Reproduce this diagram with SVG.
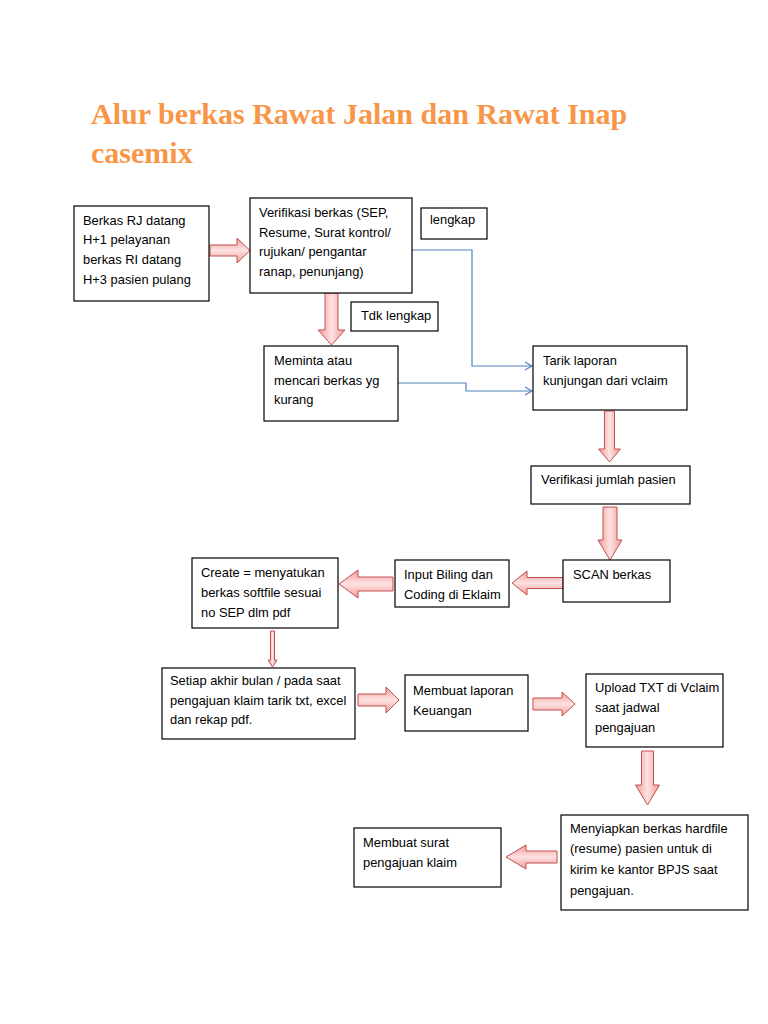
<svg xmlns="http://www.w3.org/2000/svg" width="768" height="1024" viewBox="0 0 768 1024">
<style>
.box{fill:#fff;stroke:#000;stroke-width:1.2}
.t{font-family:"Liberation Sans",Arial,sans-serif;font-size:12.9px;fill:#000}
.title{font-family:"Liberation Serif","Times New Roman",serif;font-size:30px;font-weight:bold;fill:#F79646}
.ah{stroke:#C0504D;stroke-width:1;stroke-linejoin:miter}
.h{fill:url(#gh)}
.v{fill:url(#gv)}
.blue{fill:none;stroke:#4F81BD;stroke-width:1.2}
</style>
<defs>
<linearGradient id="gh" x1="0" y1="0" x2="0" y2="1">
<stop offset="0" stop-color="#F09A98"/><stop offset="0.5" stop-color="#FDE2E2"/><stop offset="1" stop-color="#F09A98"/>
</linearGradient>
<linearGradient id="gv" x1="0" y1="0" x2="1" y2="0">
<stop offset="0" stop-color="#F09A98"/><stop offset="0.5" stop-color="#FDE2E2"/><stop offset="1" stop-color="#F09A98"/>
</linearGradient>
<marker id="open" markerWidth="10" markerHeight="10" refX="8" refY="5" orient="auto" markerUnits="userSpaceOnUse">
<polyline points="1,1 8,5 1,9" fill="none" stroke="#4F81BD" stroke-width="1.2"/>
</marker>
</defs>
<rect width="768" height="1024" fill="#fff"/>
<text class="title" x="91" y="124">Alur berkas Rawat Jalan dan Rawat Inap</text>
<text class="title" x="91" y="163">casemix</text>

<g id="connectors">
<path class="ah h" d="M210,245 L237,245 L237,238 L250,250.5 L237,263 L237,256 L210,256 Z"/>
<path class="ah v" d="M325,293 L338,293 L338,330 L345,330 L331.5,345 L318,330 L325,330 Z"/>
<polyline class="blue" points="412,250 472,250 472,366 532,366" marker-end="url(#open)"/>
<polyline class="blue" points="398,383 466,383 466,391 532,391" marker-end="url(#open)"/>
<path class="ah v" d="M604.5,411 L614.5,411 L614.5,449 L620.5,449 L609.5,462 L598.5,449 L604.5,449 Z"/>
<path class="ah v" d="M603,507 L617,507 L617,540 L622,540 L610,560 L598,540 L603,540 Z"/>
<path class="ah h" d="M563,577.5 L527,577.5 L527,571 L512,583 L527,595 L527,588.5 L563,588.5 Z"/>
<path class="ah h" d="M393,577 L358,577 L358,570 L339,584 L358,598 L358,591 L393,591 Z"/>
<path class="ah v" d="M270.5,631 L274.5,631 L274.5,660 L277,660 L272.5,667 L268,660 L270.5,660 Z"/>
<path class="ah h" d="M358,694 L386,694 L386,687 L399,700 L386,713 L386,706 L358,706 Z"/>
<path class="ah h" d="M533,698 L562,698 L562,692 L575,704 L562,716 L562,710 L533,710 Z"/>
<path class="ah v" d="M641.5,751 L653.5,751 L653.5,785 L659.5,785 L647.5,805 L635.5,785 L641.5,785 Z"/>
<path class="ah h" d="M557,851 L526,851 L526,845 L506,857 L526,869 L526,863 L557,863 Z"/>
</g>

<g id="n1"><rect class="box" x="74" y="206" width="135" height="95"/>
<text class="t" x="83" y="225">Berkas RJ datang</text><text class="t" x="83" y="244">H+1 pelayanan</text><text class="t" x="83" y="264">berkas RI datang</text><text class="t" x="83" y="284">H+3 pasien pulang</text></g>
<g id="n2"><rect class="box" x="250" y="198" width="162" height="95"/>
<text class="t" x="259" y="217">Verifikasi berkas (SEP,</text><text class="t" x="259" y="237">Resume, Surat kontrol/</text><text class="t" x="259" y="256">rujukan/ pengantar</text><text class="t" x="259" y="276">ranap, penunjang)</text></g>
<g id="n3"><rect class="box" x="421" y="208" width="66" height="31"/>
<text class="t" x="430" y="224">lengkap</text></g>
<g id="n4"><rect class="box" x="351" y="302" width="87" height="29"/>
<text class="t" x="361" y="320">Tdk lengkap</text></g>
<g id="n5"><rect class="box" x="264" y="346" width="134" height="75"/>
<text class="t" x="274" y="365">Meminta atau</text><text class="t" x="274" y="385">mencari berkas yg</text><text class="t" x="274" y="404">kurang</text></g>
<g id="n6"><rect class="box" x="533" y="346" width="154" height="64"/>
<text class="t" x="543" y="365">Tarik laporan</text><text class="t" x="543" y="385">kunjungan dari vclaim</text></g>
<g id="n7"><rect class="box" x="531" y="466" width="159" height="38"/>
<text class="t" x="541" y="484">Verifikasi jumlah pasien</text></g>
<g id="n8"><rect class="box" x="563" y="560" width="107" height="42"/>
<text class="t" x="573" y="579">SCAN berkas</text></g>
<g id="n9"><rect class="box" x="395" y="560" width="114" height="47"/>
<text class="t" x="404" y="579">Input Biling dan</text><text class="t" x="404" y="599">Coding di Eklaim</text></g>
<g id="n10"><rect class="box" x="192" y="558" width="146" height="70"/>
<text class="t" x="201" y="577">Create = menyatukan</text><text class="t" x="201" y="597">berkas softfile sesuai</text><text class="t" x="201" y="617">no SEP dlm pdf</text></g>
<g id="n11"><rect class="box" x="162" y="668" width="193" height="71"/>
<text class="t" x="170" y="685">Setiap akhir bulan / pada saat</text><text class="t" x="170" y="705">pengajuan klaim tarik txt, excel</text><text class="t" x="170" y="724">dan rekap pdf.</text></g>
<g id="n12"><rect class="box" x="405" y="675" width="123" height="56"/>
<text class="t" x="413" y="695">Membuat laporan</text><text class="t" x="413" y="715">Keuangan</text></g>
<g id="n13"><rect class="box" x="586" y="674" width="137" height="73"/>
<text class="t" x="595" y="692">Upload TXT di Vclaim</text><text class="t" x="595" y="712">saat jadwal</text><text class="t" x="595" y="732">pengajuan</text></g>
<g id="n14"><rect class="box" x="561" y="815" width="187" height="95"/>
<text class="t" x="570" y="833">Menyiapkan berkas hardfile</text><text class="t" x="570" y="853">(resume) pasien untuk di</text><text class="t" x="570" y="874">kirim ke kantor BPJS saat</text><text class="t" x="570" y="895">pengajuan.</text></g>
<g id="n15"><rect class="box" x="354" y="828" width="147" height="59"/>
<text class="t" x="363" y="847">Membuat surat</text><text class="t" x="363" y="867">pengajuan klaim</text></g>
</svg>
